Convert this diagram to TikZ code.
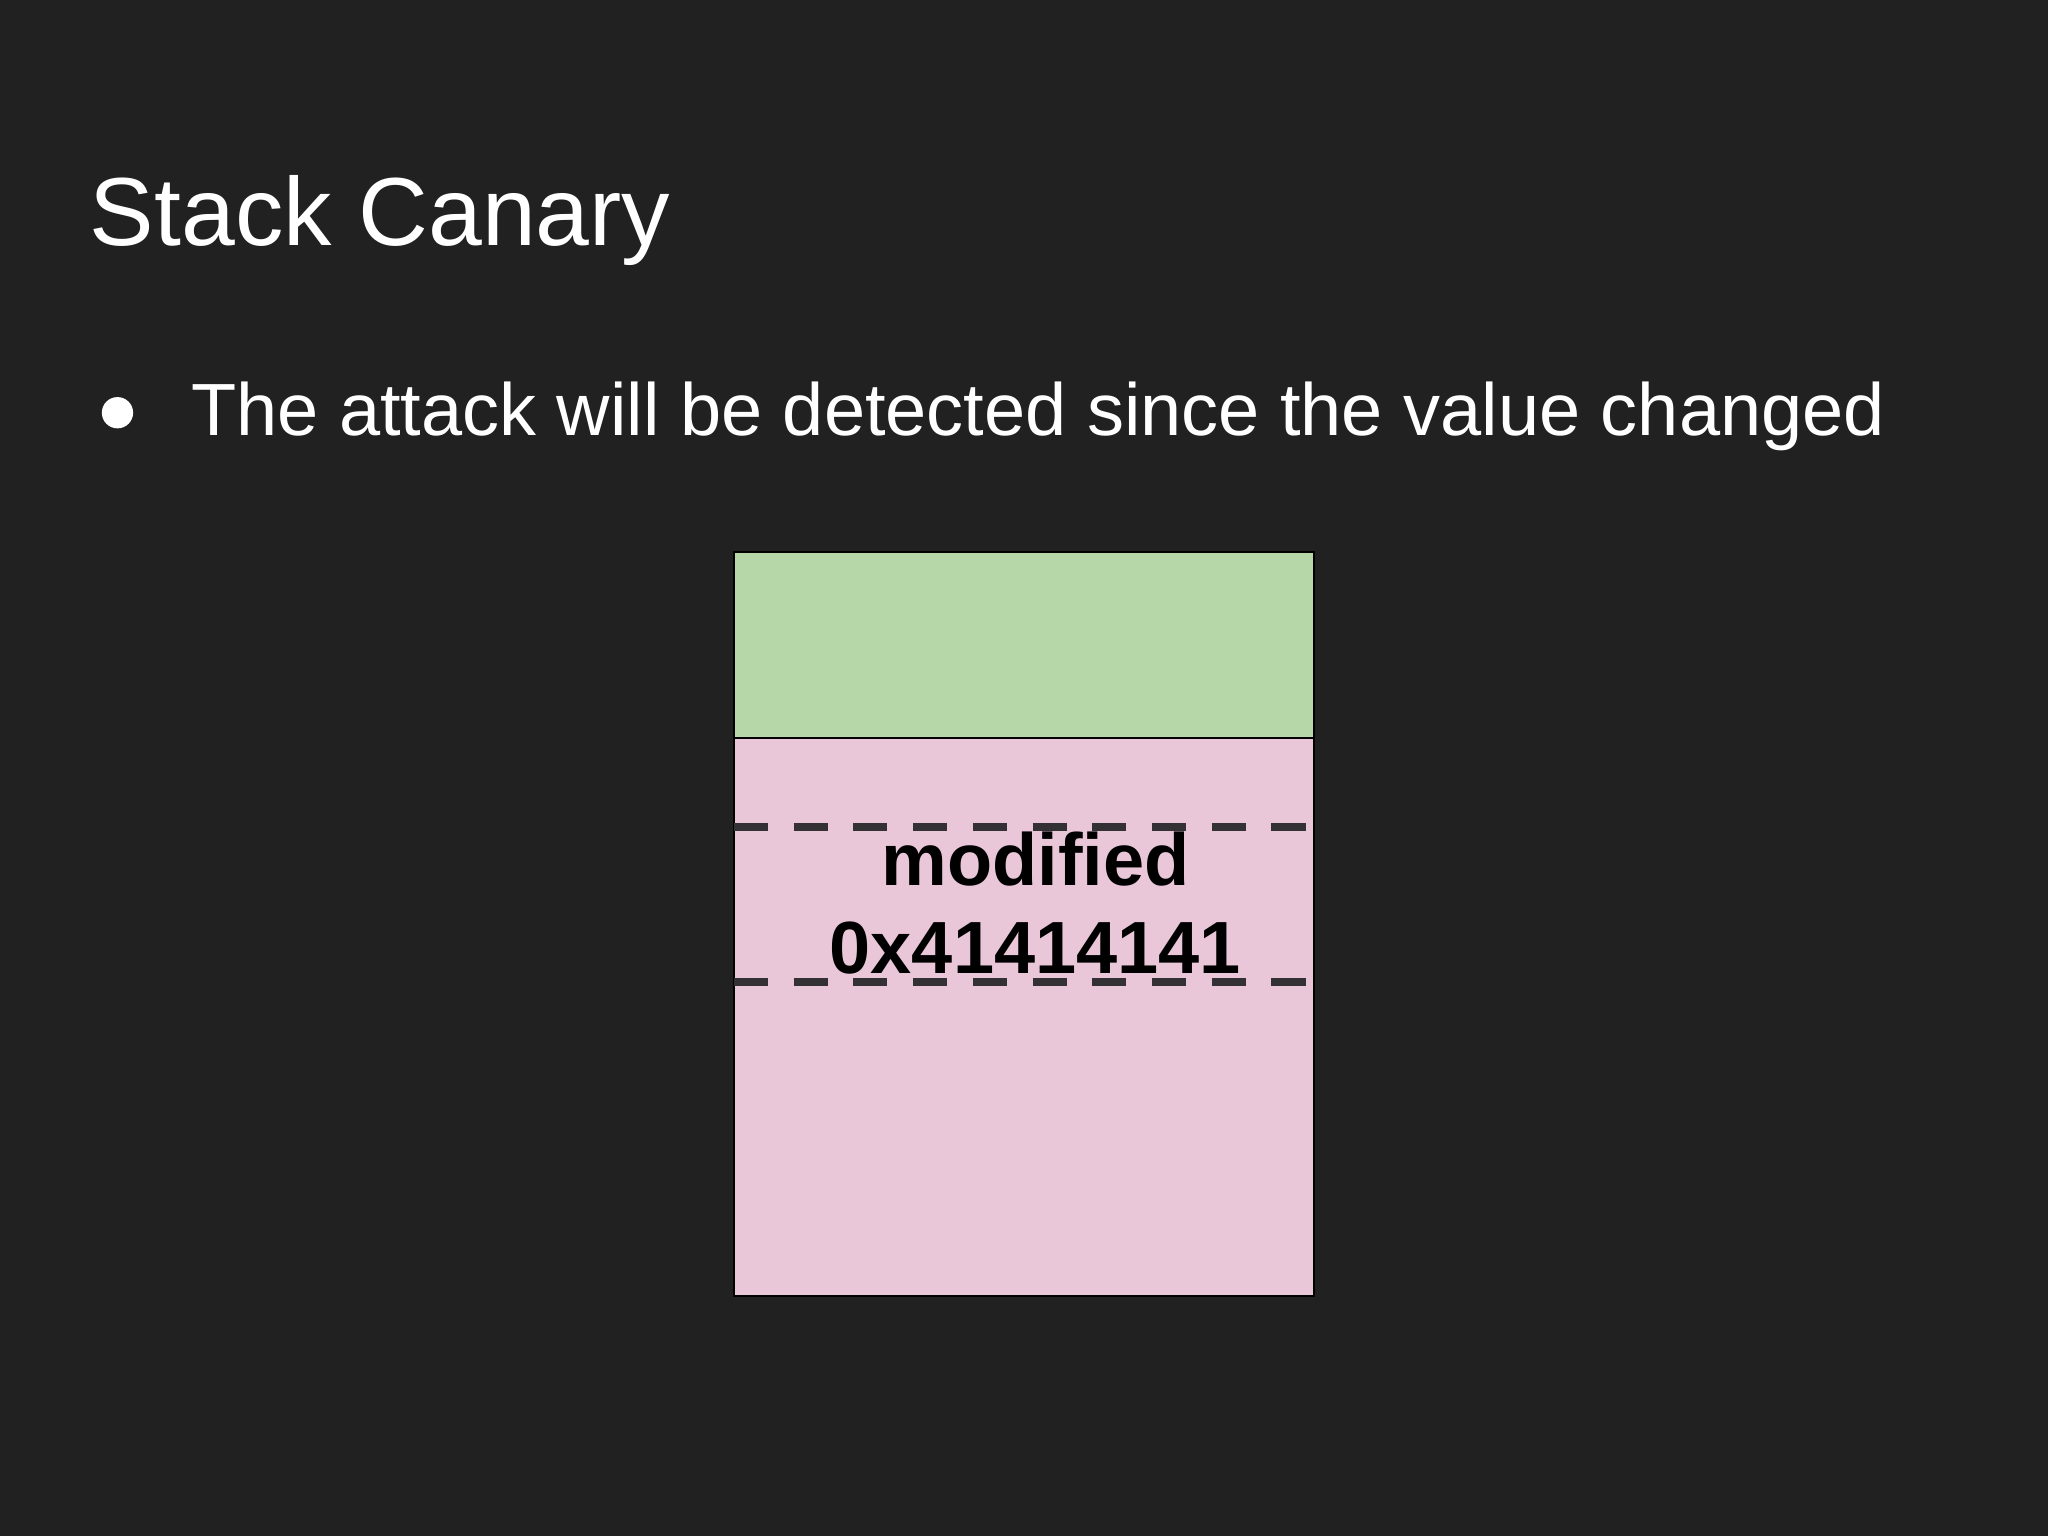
\documentclass[tikz,border=0pt]{standalone}
\usepackage{fontspec}
\setmainfont{Liberation Sans}[Ligatures=NoCommon]
\definecolor{slidebg}{RGB}{33,33,34}
\definecolor{retgreen}{HTML}{B6D7A8}
\definecolor{bufpink}{RGB}{233,199,217}
\definecolor{dashgray}{RGB}{52,49,53}
\tikzset{
  slidetext/.style={anchor=base west, text=white, inner sep=0},
  stackbox/.style={draw=black, line width=0.75pt, minimum width=204pt, inner sep=0, outer sep=0},
  canaryline/.style={draw=dashgray, line width=2.9pt, dash pattern=on 12pt off 9pt},
  stacklabel/.style={anchor=base, inner sep=0, font=\fontsize{26}{31}\selectfont\bfseries}
}
\begin{document}
\begin{tikzpicture}[x=1pt,y=-1pt]
  \fill[slidebg] (0,0) rectangle (720,540);
  \useasboundingbox (0,0) rectangle (720,540);
  % heading and bullet
  \node[slidetext, font=\fontsize{34}{41}\selectfont] (title) at (31.4,86.3) {Stack Canary};
  \node[circle, fill=white, minimum size=11pt, inner sep=0] (dot) at (41.3,145.1) {};
  \node[slidetext, font=\fontsize{26}{31}\selectfont] (point) at (67,153) {The attack will be detected since the value changed};
  % the stack
  \node[stackbox, fill=retgreen, minimum height=65.3pt] (retbox) at (360,226.85) {};
  \node[stackbox, fill=bufpink, minimum height=196.1pt] (bufbox) at (360,357.55) {};
  \coordinate (topL) at (258,290.8);
  \coordinate (topR) at (459.3,290.8);
  \coordinate (botL) at (258,345.2);
  \coordinate (botR) at (459.3,345.2);
  \draw[canaryline] (topL) -- (topR);
  \draw[canaryline] (botL) -- (botR);
  \node[stacklabel] (modlabel) at (364,311.4) {modified};
  \node[stacklabel] (vallabel) at (364,342.2) {0x41414141};
\end{tikzpicture}
\end{document}
